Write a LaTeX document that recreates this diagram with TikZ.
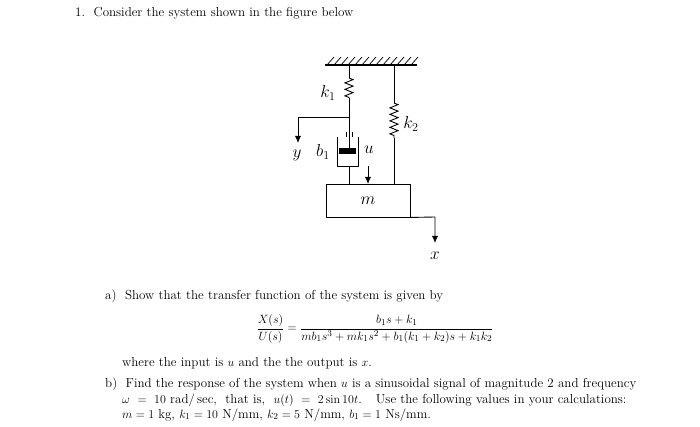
\documentclass[tikz,border=0pt]{standalone}
\usetikzlibrary{patterns,decorations.pathmorphing,arrows.meta}
\begin{document}
\begin{tikzpicture}[x=1pt,y=-1pt,
  txt/.style={anchor=base west,inner sep=0pt,font=\fontsize{13}{15}\selectfont},
  lbl/.style={inner sep=0pt,font=\fontsize{18}{20}\selectfont},
  ln/.style={line width=0.9pt},
  arr/.style={ln,-{Latex[length=7pt,width=6pt]}},
  spr/.style={ln,decorate,decoration={zigzag,segment length=6.5pt,amplitude=4pt}}]
\useasboundingbox (0,0) rectangle (700,427);
\node[txt] (t1) at (75,17) {1.\ \ Consider the system shown in the figure below};
% ground
\draw[line width=1.2pt] (325,65) -- (417,65);
\foreach \i in {0,...,12} \draw[line width=0.7pt] (327+7*\i,65) -- ++(7,-8);
\coordinate (g1) at (349,65); \coordinate (g2) at (394,65);
% k1
\coordinate (s1a) at (349,78); \coordinate (s1b) at (349,98);
\draw[ln] (g1) -- (s1a); \draw[spr] (s1a) -- (s1b); \draw[ln] (s1b) -- (349,132);
% y arrow
\coordinate (yj) at (349,117); \coordinate (yc) at (298,117); \coordinate (ye) at (298,143);
\draw[arr] (yj) -- (yc) -- (ye);
\node[lbl] (yl) at (297,155) {$y$};
% dashpot
\draw[ln] (337,137) -- (337,166) -- (358,166) -- (358,137);
\draw[ln] (346,132) -- (346,137) (352,132)--(352,137);
\fill (339,148) rectangle (356,154);
\draw[ln] (349,132) -- (349,148);
\draw[ln] (349,166) -- (349,184);
\node[lbl] (b1) at (323,152) {$b_1$};
\node[lbl] (k1) at (328,93) {$k_1$};
% k2
\coordinate (s2a) at (394,103); \coordinate (s2b) at (394,138);
\draw[ln] (g2) -- (s2a); \draw[spr] (s2a) -- (s2b); \draw[ln] (s2b) -- (394,184);
\node[lbl] (k2) at (411,124) {$k_2$};
% mass
\node[draw,line width=0.9pt,minimum width=84pt,minimum height=33pt,inner sep=0pt,font=\fontsize{18}{20}\selectfont] (m) at (368,200.5) {$m$};
\draw[arr] (368,166) -- (368,184);
\node[lbl] (u) at (369,150) {$u$};
\draw[arr] (m.south east) -- (435,217) -- (435,243);
\node[lbl] (x) at (435,256) {$x$};
% text
\node[txt] (a) at (105,299) {a)\ \ Show that the transfer function of the system is given by};
\node[inner sep=0pt,font=\fontsize{13}{15}\selectfont] (eq) at (375,329) {$\displaystyle \frac{X(s)}{U(s)}=\frac{b_1s+k_1}{mb_1s^3+mk_1s^2+b_1(k_1+k_2)s+k_1k_2}$};
\node[txt] (w) at (122,366) {where the input is $u$ and the the output is $x$.};
\node[txt] (b) at (105,387) {b)\ \ Find the response of the system when $u$ is a sinusoidal signal of magnitude 2 and frequency};
\node[txt] (b2) at (122,403) {$\omega\ =\ 10$ rad/\,sec, \ that is, \ $u(t)\ =\ 2\sin 10t$. \ \ Use the following values in your calculations:};
\node[txt] (b3) at (122,418) {$m=1$ kg, $k_1=10$ N/mm, $k_2=5$ N/mm, $b_1=1$ Ns/mm.};
\end{tikzpicture}
\end{document}
